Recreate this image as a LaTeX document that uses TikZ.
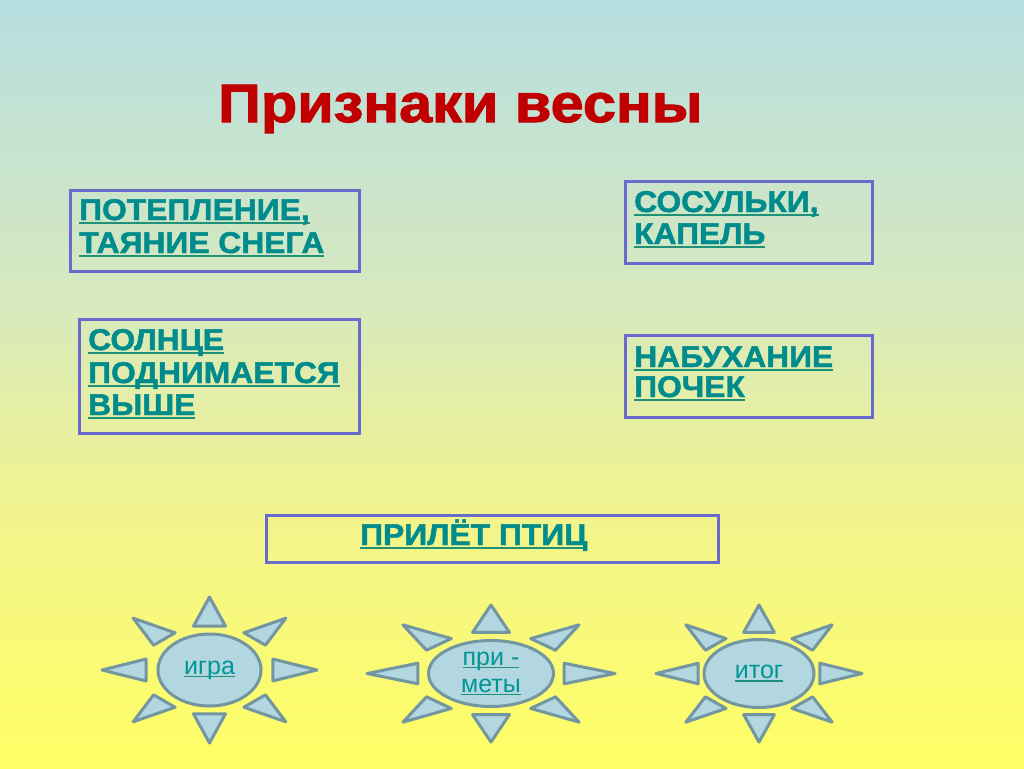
\documentclass[tikz,border=0pt]{standalone}
\usepackage{fontspec}
\setmainfont{Liberation Sans}
\newfontfamily\boxfont[FakeStretch=1.06, FakeBold=1.6]{Liberation Sans}
\newfontfamily\titlefont[FakeStretch=1.1, FakeBold=2]{Liberation Sans}
\usetikzlibrary{shapes.geometric}
\definecolor{bgtop}{RGB}{182,222,224}
\definecolor{bgmidA}{RGB}{215,233,190}
\definecolor{bgmidB}{RGB}{242,244,140}
\definecolor{bgbot}{RGB}{255,255,100}
\definecolor{titlered}{RGB}{192,0,0}
\definecolor{teal}{RGB}{0,140,140}
\definecolor{ulc}{RGB}{30,145,120}
\definecolor{boxline}{RGB}{106,106,205}
\definecolor{sunfill}{RGB}{178,215,224}
\definecolor{sunline}{RGB}{115,150,160}
\definecolor{suntext}{RGB}{0,150,150}
\newcommand\ulin[3]{\setbox0=\hbox{#1}\rlap{\color{ulc}\rule[-#2em]{\wd0}{#3em}}\box0}
\newcommand\bul[1]{\ulin{#1}{0.14}{0.07}}
\newcommand\sul[1]{\ulin{#1}{0.12}{0.06}}
\newcommand\sunrays[4]{%
  \begin{scope}[shift={(#1,#2)}, x=#3pt, y=-#4pt]
    \foreach \a/\b/\c/\d/\e/\f in {0/-1/-0.149/-0.6/0.149/-0.6, 0/1/-0.149/0.6/0.149/0.6,
      -1/0/-0.59/-0.15/-0.59/0.15, 1/0/0.59/-0.15/0.59/0.15,
      -0.71/-0.71/-0.32/-0.51/-0.52/-0.34, 0.71/-0.71/0.32/-0.51/0.52/-0.34,
      -0.71/0.71/-0.32/0.51/-0.52/0.34, 0.71/0.71/0.32/0.51/0.52/0.34}
      \draw[ray] (\a,\b) -- (\c,\d) -- (\e,\f) -- cycle;
  \end{scope}}
\tikzset{
  ray/.style={fill=sunfill, draw=sunline, line width=3pt, line join=round},
  sunc/.style={ellipse, fill=sunfill, draw=sunline, line width=3pt, inner sep=0pt,
    text=suntext, font=\fontsize{25}{27}\selectfont, align=center},
  box/.style={draw=boxline, line width=3.5pt, inner sep=0pt, anchor=north west},
  btxt/.style={inner sep=0pt, anchor=base west, text=teal,
    font=\boxfont\bfseries\fontsize{30}{33}\selectfont},
}
\begin{document}
\begin{tikzpicture}[x=1pt, y=-1pt]
\useasboundingbox (0,0) rectangle (1024,768);
\shade[top color=bgtop, bottom color=bgmidA] (0,0) rectangle (1024,300);
\shade[top color=bgmidA, bottom color=bgmidB] (0,299.5) rectangle (1024,520);
\shade[top color=bgmidB, bottom color=bgbot] (0,519.5) rectangle (1024,768);

\node[inner sep=0pt, anchor=base west, text=titlered,
  font=\titlefont\bfseries\fontsize{54}{60}\selectfont] (title) at (218,122) {Признаки весны};

\node[box, minimum width=289pt, minimum height=81pt] (b1) at (68.7,188.7) {};
\node[btxt] (b1a) at (79,220) {\bul{ПОТЕПЛЕНИЕ,}};
\node[btxt] (b1b) at (79,253) {\bul{ТАЯНИЕ СНЕГА}};

\node[box, minimum width=280pt, minimum height=114pt] (b2) at (77.7,317.7) {};
\node[btxt] (b2a) at (88,350) {\bul{СОЛНЦЕ}};
\node[btxt] (b2b) at (88,383) {\bul{ПОДНИМАЕТСЯ}};
\node[btxt] (b2c) at (88,415) {\bul{ВЫШЕ}};

\node[box, minimum width=247pt, minimum height=82pt] (b3) at (623.7,179.7) {};
\node[btxt] (b3a) at (634,212) {\bul{СОСУЛЬКИ,}};
\node[btxt] (b3b) at (634,244) {\bul{КАПЕЛЬ}};

\node[box, minimum width=247pt, minimum height=82pt] (b4) at (623.7,333.7) {};
\node[btxt] (b4a) at (634,367) {\bul{НАБУХАНИЕ}};
\node[btxt] (b4b) at (634,397) {\bul{ПОЧЕК}};

\node[box, minimum width=452pt, minimum height=47pt] (b5) at (264.7,513.7) {};
\node[btxt] (b5a) at (360,545) {\bul{ПРИЛЁТ ПТИЦ}};

\sunrays{209.5}{670}{107.5}{73}
\node[sunc, minimum width=103pt, minimum height=72pt] (s1) at (209.5,670) {\sul{игра}};
\sunrays{491}{673.5}{124}{68.5}
\node[sunc, minimum width=125pt, minimum height=66pt] (s2) at (491,673.5) {\sul{при -}\\\sul{меты}};
\sunrays{759}{673.5}{103}{68.5}
\node[sunc, minimum width=110pt, minimum height=68pt] (s3) at (759,673.5) {\sul{итог}};
\end{tikzpicture}
\end{document}
